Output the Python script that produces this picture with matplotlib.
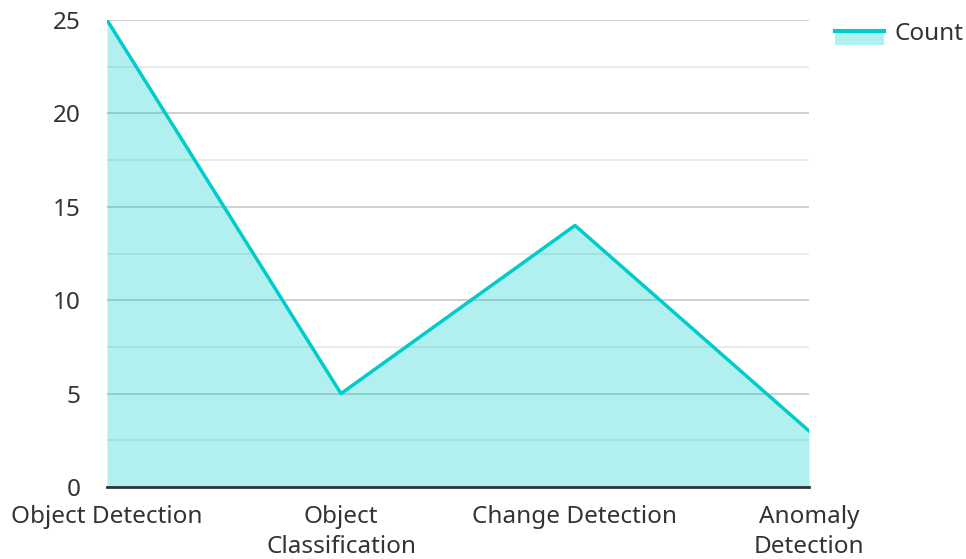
import matplotlib
matplotlib.use("Agg")
import matplotlib.pyplot as plt
from matplotlib.legend_handler import HandlerBase
from matplotlib.patches import Rectangle
from matplotlib.lines import Line2D
from matplotlib.ticker import MultipleLocator

categories = ["Object Detection", "Object\nClassification", "Change Detection", "Anomaly\nDetection"]
counts = [25, 5, 14, 3]
series_name = "Count"

line_color = "#00CCCC"
text_color = "#333333"
fs = 17.5

plt.rcParams['font.family'] = ['Noto Sans', 'DejaVu Sans']

fig = plt.figure(figsize=(9.66, 5.59), dpi=100)
ax = fig.add_axes([107/966, 72/559, (809-107)/966, (487-20)/559])

x = list(range(len(categories)))
ax.fill_between(x, counts, 0, color=line_color, alpha=0.3, linewidth=0, zorder=2)
ax.plot(x, counts, color=line_color, linewidth=2.5, zorder=3, label=series_name)

ax.set_xlim(0, len(categories) - 1)
ax.set_ylim(0, 25)
ax.yaxis.set_major_locator(MultipleLocator(5))
ax.yaxis.set_minor_locator(MultipleLocator(2.5))
ax.grid(True, which='major', axis='y', color='#c8c8c8', linewidth=1.2, zorder=1)
ax.grid(True, which='minor', axis='y', color='#e6e6e6', linewidth=1.2, zorder=1)
ax.grid(False, axis='x')
ax.set_axisbelow(True)

ax.set_xticks(x)
ax.set_xticklabels(categories, fontsize=fs, color=text_color, linespacing=1.32, va='top')
ax.tick_params(axis='x', length=0, pad=13)
ax.tick_params(axis='y', which='both', length=0, pad=19, labelsize=fs, labelcolor=text_color)

for s in ['left', 'right', 'top']:
    ax.spines[s].set_visible(False)
ax.spines['bottom'].set_color(text_color)
ax.spines['bottom'].set_linewidth(2)
ax.spines['bottom'].set_zorder(4)


class AreaHandler(HandlerBase):
    def create_artists(self, legend, orig_handle, xdescent, ydescent, width, height, fontsize, trans):
        rect = Rectangle((-xdescent, -ydescent - height * 0.3), width, height * 0.85,
                         facecolor=line_color, alpha=0.3, linewidth=0, transform=trans)
        ln = Line2D([-xdescent, -xdescent + width], [-ydescent + height * 0.55] * 2,
                    color=line_color, linewidth=3, transform=trans)
        return [rect, ln]


handle = Line2D([], [], color=line_color)
fig.legend([handle], [series_name], handler_map={Line2D: AreaHandler()},
           loc='upper left', bbox_to_anchor=(835/966, 1 - 22/559), frameon=False,
           fontsize=fs, handlelength=2.0, handletextpad=0.45, labelcolor=text_color,
           borderaxespad=0, borderpad=0)

fig.savefig("out.png", dpi=100)
